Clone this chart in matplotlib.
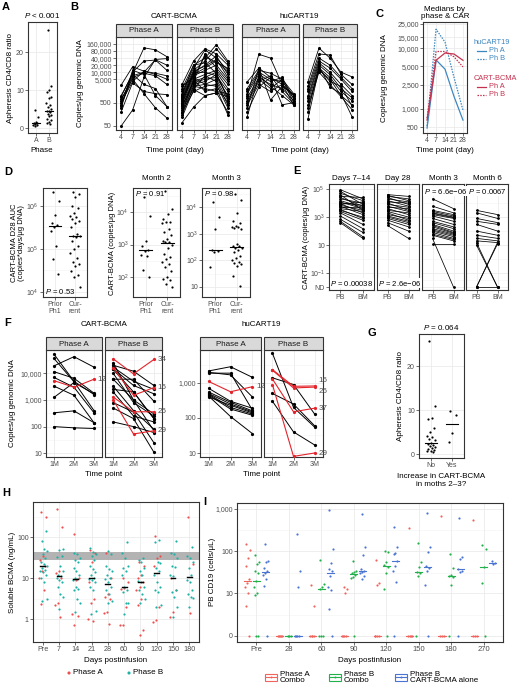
import numpy as np
import matplotlib
matplotlib.use('Agg')
import matplotlib.pyplot as plt
from matplotlib.patches import Rectangle
from matplotlib.ticker import NullLocator

plt.rcParams['font.family'] = ['Liberation Sans', 'DejaVu Sans']
plt.rcParams['mathtext.fontset'] = 'custom'
plt.rcParams['mathtext.rm'] = 'Liberation Sans'
plt.rcParams['mathtext.it'] = 'Liberation Sans:italic'

W, H = 520, 687

# ---- A: apheresis CD4/CD8 by phase
a_phase_A = [4.7, 2.9, 1.7, 1.3, 1.2, 1.1, 0.9, 0.7, 0.5]
a_phase_B = [25.8, 11, 10, 9.5, 8.2, 8, 6.5, 6, 5.5, 5, 4.5, 4.4, 4.2, 3.8, 3.5, 3.2, 2.5, 2, 1.5, 1.2, 1.0]

# ---- B: expansion curves (days 4, 7, 14, 21, 28)
b_days = ['4', '7', '14', '21', '28']
b_bcma_A = [
    [2800, 17000, 11000, 9000, 7000],
    [900, 9000, 110000, 90000, 46000],
    [50, 240, 6000, 35000, 38000],
    [600, 7000, 10000, 34000, 20000],
    [500, 4000, 11000, 8000, 5000],
    [400, 6000, 9000, 7000, 3000],
    [300, 10000, 30000, 33000, 12000],
    [200, 3500, 1500, 1200, 1100],
    [700, 5000, 1200, 300, 110],
    [1000, 8000, 3000, 2000, 340],
    [350, 12000, 8000, 1000, 340],
]
b_bcma_B = [
    [3000, 30000, 100000, 60000, 20000],
    [2000, 20000, 40000, 150000, 30000],
    [1500, 15000, 90000, 40000, 12000],
    [1200, 12000, 30000, 100000, 25000],
    [1000, 10000, 20000, 50000, 8000],
    [900, 8000, 15000, 30000, 10000],
    [800, 7000, 12000, 20000, 5000],
    [700, 6000, 50000, 25000, 15000],
    [600, 5000, 8000, 12000, 3000],
    [500, 4000, 6000, 10000, 2000],
    [450, 9000, 10000, 7000, 1500],
    [400, 3500, 5000, 6000, 1000],
    [350, 3000, 4000, 8000, 800],
    [300, 2500, 3000, 5000, 600],
    [250, 2000, 7000, 4000, 400],
    [200, 1500, 2500, 3000, 300],
    [180, 5000, 1500, 2000, 150],
    [150, 2500, 2000, 1500, 1200],
    [120, 1800, 1000, 1300, 900],
    [70, 320, 1000, 1300, 200],
    [1100, 20000, 25000, 9000, 700],
    [2500, 6000, 3000, 2500, 500],
    [600, 11000, 18000, 35000, 6000],
    [350, 4000, 60000, 15000, 4000],
]
b_hu_A = [
    [1000, 58000, 40000, 3000, 1000],
    [3900, 15000, 6000, 3000, 800],
    [2000, 12000, 9000, 5000, 1200],
    [1500, 10000, 5000, 4000, 1000],
    [1200, 8000, 4000, 6000, 700],
    [800, 6000, 3000, 2000, 600],
    [600, 5000, 2000, 5000, 500],
    [500, 4000, 7000, 1500, 450],
    [400, 3000, 1500, 3000, 400],
    [300, 15000, 640, 2500, 1100],
    [200, 2300, 6000, 400, 500],
    [125, 7000, 2500, 1000, 400],
]
b_hu_B = [
    [3900, 107000, 40000, 10000, 6300],
    [2500, 60000, 54000, 8000, 3000],
    [2000, 40000, 20000, 6000, 2000],
    [1500, 30000, 15000, 5000, 1500],
    [1000, 25000, 10000, 3000, 1000],
    [800, 20000, 8000, 2000, 800],
    [600, 15000, 6000, 1500, 600],
    [400, 12000, 5000, 1000, 400],
    [300, 10000, 3000, 900, 250],
    [200, 18000, 2300, 1200, 125],
    [100, 14000, 4000, 2500, 350],
]

# ---- C: medians
c_hu_A = [480, 6400, 4500, 1600, 650]
c_hu_B = [520, 20500, 12600, 3300, 950]
c_bcma_A = [650, 6300, 8300, 8000, 6300]
c_bcma_B = [700, 8800, 8800, 7200, 4900]

# ---- D
d_auc_prior = [2.1e6, 1.3e6, 6.3e5, 4.1e5, 3.6e5, 3.3e5, 2.6e5, 1.2e5, 5.7e4, 2.6e4]
d_auc_current = [2.1e6, 1.9e6, 1.6e6, 1.0e6, 9e5, 7e5, 6e5, 5.5e5, 5e5, 4.5e5, 4e5, 3.2e5, 2.2e5,
                 2.0e5, 2.0e5, 1.9e5, 1.5e5, 1.2e5, 1.0e5, 8e4, 6e4, 5e4, 4.5e4, 4e4, 3e4, 2.5e4,
                 2.2e4, 1.3e4]
d_m2_prior = [30000, 7600, 1300, 900, 700, 650, 470, 450, 170, 100]
d_m2_current = [45000, 12000, 9000, 6000, 5000, 4800, 4500, 3000, 2500, 2000, 1500, 1300, 1200, 1200,
                1000, 800, 500, 400, 350, 300, 250, 200, 150, 100, 90, 80, 60, 50]
d_m3_prior = [15000, 4200, 1500, 240, 220, 200, 58]
d_m3_current = [30000, 18000, 6000, 3000, 2500, 2000, 1800, 1700, 1600, 1500, 400, 350, 340, 300,
                280, 250, 200, 150, 120, 100, 90, 80, 70, 60, 25, 11]

# ---- E: PB vs BM (ND = 0.01)
e_titles = ['Days 7\u201314', 'Day 28', 'Month 3', 'Month 6']
e_pb = [
    [90000, 70000, 50000, 40000, 30000, 25000, 20000, 15000, 12000, 10000, 9000, 8000, 7000, 6000,
     5000, 4000, 3500, 3000, 2500, 2000, 1200, 700, 500, 400],
    [40000, 35000, 30000, 25000, 20000, 15000, 12000, 10000, 8000, 6000, 5000, 4000, 3000, 2500,
     2000, 1500, 1200, 1000, 800, 600, 400, 250],
    [20000, 6000, 3000, 2500, 2000, 1800, 1500, 1200, 800, 500, 400, 300, 250, 200, 150, 120, 100,
     80, 60, 50, 30, 12],
    [3000, 2000, 800, 500, 300, 100, 50, 30, 20, 15, 10, 0.01, 0.01, 0.01],
]
e_bm = [
    [20000, 8000, 15000, 3000, 25000, 6000, 10000, 5000, 4000, 7000, 2000, 12000, 3000, 1500, 4500,
     2500, 800, 1000, 600, 300, 150, 80, 40, 30],
    [30000, 15000, 20000, 8000, 12000, 6000, 10000, 3000, 5000, 2500, 4000, 1500, 2000, 1000, 600,
     800, 500, 400, 300, 200, 100, 30],
    [4000, 2000, 1500, 1200, 1000, 900, 800, 500, 300, 200, 150, 100, 80, 70, 60, 50, 40, 30, 25,
     20, 0.01, 12],
    [1500, 800, 400, 300, 100, 50, 30, 20, 15, 0.01, 0.01, 12, 15, 0.01],
]
e_pvals = ['0.00038', '2.6e\u221206', '6.6e\u221206', '0.0067']

# ---- F: months 1-3
f_months = ['1M', '2M', '3M']
f_bcma_A = [[52000, 5000, 1600], [36000, 4800, 400], [19000, 42000, 17000], [11500, 6500, 1800],
            [7000, 3000, 330], [3300, 1500, 140], [1250, 4500, 1700], [330, 390, 140], [100, 90, 85]]
f_bcma_A_red = [[5300, 3000, 6000]]
f_bcma_A_lab = ['12']
f_bcma_B = [[20000, 12000, 3500], [17000, 5000, 2500], [15000, 3500, 1700], [14000, 2000, 200],
            [6000, 6000, 900], [6000, 1000, 300], [3300, 400, 80], [2500, 2000, 200], [2000, 250, 150],
            [800, 350, 25], [500, 200, 11], [150, 100, 60], [25000, 1000, 70], [10000, 800, 250]]
f_bcma_B_red = [[35000, 9500, 33000], [16000, 1500, 2900], [1300, 360, 360], [1000, 53, 70]]
f_bcma_B_lab = ['34', '16', '26', '29']
f_hu_A = [[2200, 2900, 1450], [2000, 1700, 400], [1900, 1900, 170], [700, 300, 190], [500, 250, 150],
          [480, 200, 130], [450, 180, 120], [420, 110, 36], [400, 230, 140], [550, 280, 160]]
f_hu_A_red = [[1100, 560, 780]]
f_hu_A_lab = ['12']
f_hu_B = [[7000, 200, 55], [1400, 900, 130], [500, 250, 60], [300, 40, 17]]
f_hu_B_red = [[2400, 800, 820], [2300, 720, 760], [1300, 150, 190], [900, 8, 10]]
f_hu_B_lab = ['16', '26', '37', '29']

# ---- G
g_no = [25.8, 11, 8.2, 8, 6, 5, 4, 3.8, 3.5, 3.2, 2.5, 2.3, 2, 1.8, 1.5, 1.4, 1.2, 1.0, 0.8, 0.6, 0.5]
g_yes = [9.8, 8.9, 4.7, 2.8]

# ---- H: soluble BCMA
h_days = ['Pre', '7', '14', '21', '28', '60', '90', '120', '150', '180']
h_A = [
    [400, 300, 35, 28, 20, 15, 10, 5.2, 2.3],
    [480, 180, 15, 13, 10, 2.5, 2.2, 1.1],
    [120, 10, 9, 1.3, 1.2, 0.7],
    [48, 40, 25, 8, 3, 2.5, 1.0, 0.9],
    [40, 10, 4, 3.5, 3, 1.5, 1.4, 0.75],
    [10, 8, 5.8, 5.5, 2, 0.7, 0.7],
    [25, 20, 12, 10, 8, 6, 5, 3, 2.2, 0.55, 0.4],
    [105, 35, 30, 20, 2, 0.95, 0.85],
    [10, 5, 1.5, 1.1],
    [300, 22, 1.4],
]
h_B = [
    [140, 80, 50, 45, 38, 30, 25, 22, 20, 18, 16, 15, 14, 12, 10, 8, 3, 2.8],
    [50, 48, 35, 32, 20, 15, 12, 11, 10, 9, 8, 6, 4, 3.5, 1.8],
    [40, 38, 30, 28, 25, 18, 15, 12, 10, 9.5, 9, 6, 5.5, 5, 3, 2.5, 1.5],
    [55, 42, 38, 35, 28, 20, 17, 14, 12, 10, 9.5, 9, 8, 6, 5, 1.6, 1.3],
    [45, 38, 20, 17, 15, 12, 10, 9.5, 8, 6, 5, 4, 2.7, 2.5],
    [75, 40, 30, 20, 18, 15, 12, 6, 5, 4.5, 2.5, 2.4, 1.3],
    [30, 28, 25, 18, 15, 12, 8.5, 8, 6, 5, 4, 3, 2.5],
    [85, 75, 25, 23, 18, 15, 12, 8, 6, 5, 4.5, 2.2, 2],
    [80, 40, 38, 30, 20, 19, 12, 11, 5, 4.5, 3.5, 2, 1.1],
    [58, 35, 30, 25, 18, 12, 9, 8, 5, 4, 3.5, 3.2, 2],
]
h_band = (27, 43)

# ---- I: PB CD19
i_days = ['Pre', '28', '60', '90', '120', '150', '180', '270']
i_A = [
    [150, 110, 70, 45, 22, 18, 14, 10, 5, 0],
    [0, 0, 0, 0, 0],
    [16, 5, 0, 0, 0, 0],
    [14, 13, 10, 0, 0, 0, 0],
    [62, 18, 16, 0, 0, 0, 0],
    [350, 0, 0, 0, 0],
    [700, 0, 0, 0],
    [560, 0, 0, 0],
]
i_B_combo = [
    [80, 55, 50, 35, 30, 20, 14, 10, 9, 0, 0],
    [0, 0, 0],
    [62, 17, 14, 13, 0, 0, 0],
    [60, 35, 33, 30, 27, 25, 23, 0],
    [100, 95, 55, 48, 42, 30, 13, 0],
    [160, 55, 42, 33, 30, 26, 0],
    [85, 40, 27, 26, 25, 16, 0],
    [140, 115, 42, 18, 0],
]
i_B_alone = [
    [150, 60, 55, 40, 35, 30, 28, 22, 15, 0],
    [250, 35, 14, 0, 0, 0, 0],
    [950, 115, 52, 38, 35, 26, 14, 12, 4, 0],
    [750, 130, 80, 38, 35, 33, 30, 26, 22],
    [380, 130, 90, 85, 60, 45, 35, 19, 0],
    [820, 130, 95, 45, 40, 35, 16, 0],
    [620, 75, 65, 38, 35, 32, 0],
    [58, 52, 50],
]

# ---------------------------------------------------------------- helpers
GRID = '#EBEBEB'
EDGE = '#333333'
TICK = '#4D4D4D'
BLUE = '#3D87C0'
RED = '#C4314E'

fig = plt.figure(figsize=(W / 100, H / 100), dpi=100)
lay = fig.add_axes([0, 0, 1, 1], zorder=10)
lay.set_xlim(0, W)
lay.set_ylim(H, 0)
lay.axis('off')


def txt(x, y, s, size=5.5, **kw):
    kw.setdefault('ha', 'center')
    kw.setdefault('va', 'center')
    kw.setdefault('color', 'black')
    lay.text(x, y, s, fontsize=size, **kw)


def letter(x, y, s):
    lay.text(x, y, s, fontsize=8, fontweight='bold', ha='left', va='center')


def new_ax(l, t, r, b):
    ax = fig.add_axes([l / W, 1 - b / H, (r - l) / W, (b - t) / H])
    for s in ax.spines.values():
        s.set_color(EDGE)
        s.set_linewidth(0.8)
    ax.tick_params(length=2, width=0.5, color=EDGE, labelsize=5, labelcolor=TICK, pad=1)
    ax.grid(True, color=GRID, lw=0.6)
    ax.set_axisbelow(True)
    return ax


def strip(l, t, r, b, s):
    lay.add_patch(Rectangle((l, t), r - l, b - t, facecolor='#D9D9D9', edgecolor=EDGE, lw=0.8))
    txt((l + r) / 2, (t + b) / 2 + 0.5, s, size=5.8, color='#1A1A1A')


def jit(n, w):
    return ((np.arange(n) * 0.618034 + 0.3) % 1 - 0.5) * w


def dots(ax, x0, vals, w=0.4, color='black', s=2.5, mw=0.3, mcol='black', mlw=0.8):
    vals = np.asarray(vals, float)
    ax.scatter(x0 + jit(len(vals), w), vals, s=s, color=color, lw=0, zorder=3)
    ax.plot([x0 - mw, x0 + mw], [np.median(vals)] * 2, color=mcol, lw=mlw, zorder=4)


def log_axis(ax, lo, hi, ticks, labels, minors=()):
    ax.set_yscale('log')
    ax.set_ylim(10 ** lo, 10 ** hi)
    ax.set_yticks(ticks)
    ax.set_yticklabels(labels)
    ax.yaxis.set_minor_locator(NullLocator())
    for m in minors:
        ax.axhline(m, color='#F3F3F3', lw=0.4, zorder=0)


def comma(v):
    return f'{v:,.0f}'


# ---------------------------------------------------------------- A
letter(2, 7, 'A')
ax = new_ax(28, 22, 57, 133)
dots(ax, 1, a_phase_A, mw=0.28)
dots(ax, 2, a_phase_B, mw=0.28)
ax.set_xlim(0.4, 2.6)
ax.set_ylim(-1.3, 27.9)
ax.set_yticks([0, 10, 20])
ax.set_xticks([1, 2])
ax.set_xticklabels(['A', 'B'])
txt(42, 16, '$P$ < 0.001', size=5.8)
txt(42, 150, 'Phase', size=5.8)
txt(11, 78, 'Apheresis CD4/CD8 ratio', size=5.8, rotation=90)

# ---------------------------------------------------------------- B
letter(70, 7, 'B')
b_ticks = [50, 500, 5000, 10000, 20000, 40000, 80000, 160000]
b_boxes = [(116, 172, b_bcma_A, 'Phase A'), (177, 233, b_bcma_B, 'Phase B'),
           (242, 299, b_hu_A, 'Phase A'), (303, 357, b_hu_B, 'Phase B')]
for k, (l, r, lines, name) in enumerate(b_boxes):
    ax = new_ax(l, 37, r, 130)
    for ln in lines:
        ax.plot(range(5), ln, color='black', lw=0.6, marker='o', ms=1.2)
    log_axis(ax, 1.528, 5.503, b_ticks, [comma(v) for v in b_ticks])
    ax.set_xlim(-0.45, 4.45)
    ax.set_xticks(range(5))
    ax.set_xticklabels(b_days)
    if k > 0:
        ax.tick_params(axis='y', length=0, labelleft=False)
    strip(l, 24, r, 37, name)
txt(174.5, 17, 'CART-BCMA', size=5.8)
txt(299.5, 17, 'huCART19', size=5.8)
txt(174.5, 150, 'Time point (day)', size=5.8)
txt(299.5, 150, 'Time point (day)', size=5.8)
txt(80, 83, 'Copies/\u03bcg genomic DNA', size=5.8, rotation=90)

# ---------------------------------------------------------------- C
letter(376, 14, 'C')
ax = new_ax(423, 22, 467, 133)
c_ticks = [500, 1000, 2500, 5000, 10000, 15000, 25000]
ax.plot(range(5), c_hu_A, color=BLUE, lw=0.9)
ax.plot(range(5), c_hu_B, color=BLUE, lw=0.9, ls=(0, (1.2, 1)))
ax.plot(range(5), c_bcma_A, color=RED, lw=0.9)
ax.plot(range(5), c_bcma_B, color=RED, lw=0.9, ls=(0, (1.2, 1)))
log_axis(ax, 2.60, 4.431, c_ticks, [comma(v) for v in c_ticks])
ax.set_xlim(-0.45, 4.45)
ax.set_xticks(range(5))
ax.set_xticklabels(b_days)
txt(445, 13, 'Medians by\nphase & CAR', size=5.8, linespacing=1.1)
txt(445, 150, 'Time point (day)', size=5.8)
txt(385, 78, 'Copies/\u03bcg genomic DNA', size=5.8, rotation=90)
for y0, name, col in [(43, 'huCART19', BLUE), (79, 'CART-BCMA', RED)]:
    txt(474, y0, name, size=5.3, color=col, ha='left')
    lay.plot([477, 486], [y0 + 8, y0 + 8], color=col, lw=0.9)
    lay.plot([477, 486], [y0 + 16, y0 + 16], color=col, lw=0.9, ls=(0, (1.2, 1)))
    txt(489, y0 + 8, 'Ph A', size=5.3, color=col, ha='left')
    txt(489, y0 + 16, 'Ph B', size=5.3, color=col, ha='left')

# ---------------------------------------------------------------- D
letter(4, 172, 'D')
d_cfg = [
    ((43, 87), d_auc_prior, d_auc_current, (3.88, 6.42), [1e4, 1e5, 1e6],
     ['$10^4$', '$10^5$', '$10^6$'], None, '0.53', 'bottom'),
    ((133, 180), d_m2_prior, d_m2_current, (1.385, 4.74), [1e2, 1e3, 1e4],
     ['$10^2$', '$10^3$', '$10^4$'], 'Month 2', '0.91', 'top'),
    ((202, 250), d_m3_prior, d_m3_current, (0.625, 4.71), [10, 1e2, 1e3, 1e4],
     ['10', '$10^2$', '$10^3$', '$10^4$'], 'Month 3', '0.98', 'top'),
]
for (l, r), prior, cur, (lo, hi), tk, tl, title, pv, where in d_cfg:
    ax = new_ax(l, 188, r, 297)
    dots(ax, 1, prior, w=0.45, mw=0.3)
    dots(ax, 2, cur, w=0.5, mw=0.3)
    log_axis(ax, lo, hi, tk, tl, minors=[10 ** (np.log10(t) + 0.5) for t in tk])
    ax.set_xlim(0.4, 2.6)
    ax.set_xticks([1, 2])
    ax.set_xticklabels(['Prior\nPh1', 'Cur-\nrent'], linespacing=1.0)
    if title:
        txt((l + r) / 2, 179, title, size=5.8)
    if where == 'top':
        txt(l + 2, 193, f'$P$ = {pv}', size=5.5, ha='left')
    else:
        txt(l + 2, 291, f'$P$ = {pv}', size=5.5, ha='left')
txt(18, 243, 'CART-BCMA D28 AUC\n(copies*days/\u03bcg DNA)', size=5.5, rotation=90, linespacing=1.1)
txt(112, 243, 'CART-BCMA (copies/\u03bcg DNA)', size=5.5, rotation=90)

# ---------------------------------------------------------------- E
letter(293, 171, 'E')
e_boxes = [(329, 374), (377, 419), (422, 464), (466, 508)]
for k, (l, r) in enumerate(e_boxes):
    ax = new_ax(l, 184, r, 290)
    for pb, bm in zip(e_pb[k], e_bm[k]):
        ax.plot([1, 2], [pb, bm], color='black', lw=0.55, marker='o', ms=1.0)
    log_axis(ax, -2.21, 5.36, [1e5, 1e3, 10, 0.1, 0.01],
             ['$10^5$', '$10^3$', '10', '$10^{-1}$', 'ND'],
             minors=[1e4, 1e2, 1, 0.032])
    ax.set_xlim(0.5, 2.5)
    ax.set_xticks([1, 2])
    ax.set_xticklabels(['PB', 'BM'])
    if k > 0:
        ax.tick_params(axis='y', length=0, labelleft=False)
    txt((l + r) / 2, 178, e_titles[k], size=5.8)
    py = 283 if k < 2 else 191
    txt(l + 1.5, py, f'$P$ = {e_pvals[k]}', size=5.5, ha='left',
        bbox=dict(facecolor='white', edgecolor='none', pad=0.3))
txt(306, 237, 'CART-BCMA (copies/\u03bcg DNA)', size=5.5, rotation=90)

# ---------------------------------------------------------------- F
letter(4, 323, 'F')
f_cfg = [
    (46, 102, f_bcma_A, f_bcma_A_red, f_bcma_A_lab, [1.0], 'Phase A', (0.86, 4.874), True),
    (105, 162, f_bcma_B, f_bcma_B_red, f_bcma_B_lab, [1.0, 1.0, 1.0, 1.0], 'Phase B',
     (0.86, 4.874), False),
    (200, 261, f_hu_A, f_hu_A_red, f_hu_A_lab, [1.0], 'Phase A', (0.886, 3.94), True),
    (264, 323, f_hu_B, f_hu_B_red, f_hu_B_lab, [1.45, 0.75, 1.0, 1.0], 'Phase B',
     (0.886, 3.94), False),
]
for l, r, blk, red, labs, nudge, name, (lo, hi), show_y in f_cfg:
    ax = new_ax(l, 350, r, 457)
    for ln in blk:
        ax.plot(range(3), ln, color='black', lw=0.7, marker='o', ms=1.3)
    for ln, lab, nd in zip(red, labs, nudge):
        ax.plot(range(3), ln, color='#E3242B', lw=0.8, marker='o', ms=1.3, zorder=4)
        ax.text(2.18, ln[-1] * nd, lab, fontsize=5.8, color=TICK, ha='left', va='center',
                clip_on=False)
    tk = [10, 100, 1000, 10000] if hi > 4.2 else [10, 100, 1000]
    log_axis(ax, lo, hi, tk, [comma(v) for v in tk],
             minors=[10 ** (np.log10(t) + 0.5) for t in tk])
    ax.set_xlim(-0.4, 2.4)
    ax.set_xticks(range(3))
    ax.set_xticklabels(f_months)
    if not show_y:
        ax.tick_params(axis='y', length=0, labelleft=False)
    strip(l, 337, r, 350, name)
txt(104, 324, 'CART-BCMA', size=5.8)
txt(261.5, 324, 'huCART19', size=5.8)
txt(104, 474, 'Time point', size=5.8)
txt(261.5, 474, 'Time point', size=5.8)
txt(13, 403, 'Copies/\u03bcg genomic DNA', size=5.8, rotation=90)

# ---------------------------------------------------------------- G
letter(368, 333, 'G')
ax = new_ax(419, 334, 464, 458)
dots(ax, 1, g_no, w=0.45, mw=0.3)
dots(ax, 2, g_yes, w=0.45, mw=0.3)
ax.set_xlim(0.4, 2.6)
ax.set_ylim(-0.9, 27.3)
ax.set_yticks([0, 10, 20])
ax.set_xticks([1, 2])
ax.set_xticklabels(['No', 'Yes'])
txt(441, 328, '$P$ = 0.064', size=5.8)
txt(400, 396, 'Apheresis CD4/CD8 ratio', size=5.8, rotation=90)
txt(441, 480, 'Increase in CART-BCMA\nin moths 2\u20133?', size=5.8, linespacing=1.2)

# ---------------------------------------------------------------- H
letter(2, 493, 'H')
HA, HB = '#EE4E4E', '#1DB2A5'
ax = new_ax(33, 502, 199, 642)
ax.axhspan(*h_band, color='#A6A6A6', alpha=0.85, lw=0, zorder=1)
for i, (a, b) in enumerate(zip(h_A, h_B)):
    x = i + 1
    ax.scatter(x + jit(len(a), 0.5), a, s=2.5, color=HA, lw=0, zorder=3)
    ax.scatter(x + 0.07 + jit(len(b), 0.45)[::-1], b, s=2.5, color=HB, lw=0, zorder=3)
    ax.plot([x - 0.15, x + 0.15], [np.median(a + b)] * 2, color='black', lw=1.0, zorder=4)
log_axis(ax, -0.561, 2.854, [1, 10, 100], ['1', '10', '100'], minors=[3.16, 31.6, 316])
ax.set_xlim(0.4, 10.6)
ax.set_xticks(range(1, 11))
ax.set_xticklabels(h_days)
ax.tick_params(axis='x', labelsize=5.2)
txt(116, 661, 'Days postinfusion', size=5.8)
txt(13, 572, 'Soluble BCMA (ng/mL)', size=5.8, rotation=90)
lay.scatter([69, 129], [673, 673], s=5, color=[HA, HB], lw=0)
txt(73, 673, 'Phase A', size=5.8, ha='left')
txt(133, 673, 'Phase B', size=5.8, ha='left')

# ---------------------------------------------------------------- I
letter(203, 502, 'I')
IA, IB, IC = '#F0645E', '#22B04B', '#4A74D2'


def fwd(v):
    return np.arcsinh(np.asarray(v) / 2) / np.log(10)


def inv(v):
    return 2 * np.sinh(np.asarray(v) * np.log(10))


ax = new_ax(237, 503, 503, 642)
ax.set_yscale('function', functions=(fwd, inv))
for i in range(len(i_days)):
    x = i + 1
    for off, grp, col in [(-0.28, i_A, IA), (0.0, i_B_combo, IB), (0.28, i_B_alone, IC)]:
        v = np.asarray(grp[i], float)
        ax.scatter(x + off + jit(len(v), 0.16), v, s=2.5, color=col, lw=0, zorder=3)
        ax.plot([x + off - 0.11, x + off + 0.11], [np.median(v)] * 2, color=col, lw=0.8, zorder=4)
ax.set_ylim(float(inv(-0.142)), float(inv(3.142)))
ax.set_yticks([0, 10, 100, 1000])
ax.set_yticklabels(['0', '10', '100', '1,000'])
ax.yaxis.set_minor_locator(NullLocator())
for m in [0.5, 1.5, 2.5]:
    ax.axhline(float(inv(m)), color='#F3F3F3', lw=0.4, zorder=0)
ax.set_xlim(0.4, 8.6)
ax.set_xticks(range(1, 9))
ax.set_xticklabels(i_days)
ax.tick_params(axis='x', labelsize=5.5)
txt(370, 660, 'Days postinfusion', size=5.8)
txt(213, 572, 'PB CD19 (cells/\u03bcL)', size=5.8, rotation=90)
for kx, col, lab in [(265, IA, 'Phase A\nCombo'), (329, IB, 'Phase B\nCombo'),
                     (395, IC, 'Phase B\nCART-BCMA alone')]:
    lay.add_patch(Rectangle((kx, 673.5), 12, 7, facecolor='white', edgecolor=col, lw=0.8))
    lay.plot([kx, kx + 12], [677, 677], color=col, lw=0.8)
    lay.scatter([kx + 6], [677], s=2, color=col, lw=0)
    txt(kx + 15, 677.5, lab, size=5.8, ha='left', linespacing=1.0)

fig.savefig('out.png', dpi=100)
